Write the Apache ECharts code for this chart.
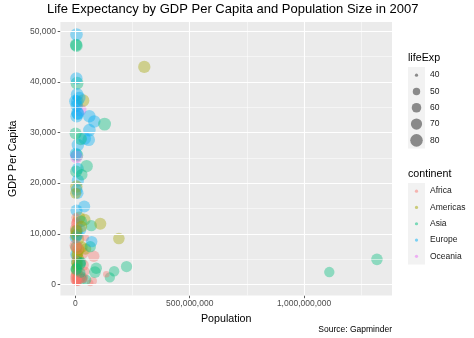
<!DOCTYPE html>
<html><head><meta charset="utf-8">
<script src="https://cdn.jsdelivr.net/npm/echarts@6/dist/echarts.min.js"></script>
<style>html,body{margin:0;padding:0;background:#fff}#c{width:474px;height:338px}</style>
</head><body><div id="c"></div>
<script>
// Gapminder 2007, alphabetical by country
const continents = ['Africa','Americas','Asia','Europe','Oceania'];
const continentColors = ['#F8766D','#A3A500','#00BF7D','#00B0F6','#E76BF3'];
const continentOf = [2,3,0,0,1,4,3,2,2,3,0,1,3,0,1,3,0,0,2,0,1,0,0,1,2,1,0,0,0,1,0,3,1,3,3,0,1,1,0,1,0,0,0,3,3,0,0,3,0,3,1,0,0,1,1,2,3,3,2,2,2,2,3,2,3,1,2,2,0,2,2,2,2,0,0,0,0,0,2,0,0,0,1,2,3,0,0,2,0,2,3,4,1,0,0,3,2,2,1,1,1,2,3,3,1,0,3,0,0,2,0,3,0,2,3,3,0,0,3,2,0,0,3,3,2,2,0,2,0,1,0,3,0,3,1,1,1,2,2,2,0,0];
// population in millions
const popMillions = [31.89,3.60,33.33,12.42,40.30,20.43,8.20,0.71,150.45,10.39,8.08,9.12,4.55,1.64,190.01,7.32,14.33,8.39,14.13,17.70,33.39,4.37,10.24,16.28,1318.68,44.23,0.71,64.61,3.80,4.13,18.01,4.49,11.42,10.23,5.47,0.50,9.32,13.76,80.26,6.94,0.55,4.91,76.51,5.24,61.08,1.45,1.69,82.40,22.87,10.71,12.57,9.95,1.47,8.50,7.48,6.98,9.96,0.30,1110.40,223.55,69.45,27.50,4.11,6.43,58.15,2.78,127.47,6.05,35.61,23.30,49.04,2.51,3.92,2.01,3.19,6.04,19.17,13.33,24.82,12.03,3.27,1.25,108.70,2.87,0.68,33.76,19.95,47.76,2.06,28.90,16.57,4.12,5.68,12.89,135.03,4.63,3.20,169.27,3.24,6.67,28.67,91.08,38.52,10.64,3.94,0.80,22.28,8.86,0.20,27.60,12.27,10.15,6.14,4.55,5.45,2.01,9.12,44.00,40.45,20.38,42.29,1.13,9.03,7.55,19.31,23.17,38.14,65.07,5.70,1.06,10.28,71.16,29.17,60.78,301.14,3.45,26.08,85.26,4.02,22.21,11.75,12.31];
const gdpPercap = [974.6,5937.0,6223.4,4797.2,12779.4,34435.4,36126.5,29796.0,1391.3,33692.6,1441.3,3822.1,7446.3,12569.9,9065.8,10680.8,1217.0,430.1,1713.8,2042.1,36319.2,706.0,1704.1,13171.6,4959.1,7006.6,986.1,277.6,3632.6,9645.1,1544.8,14619.2,8948.1,22833.3,35278.4,2082.5,6025.4,6873.3,5581.2,5728.4,12154.1,641.4,690.8,33207.1,30470.0,13206.5,752.7,32170.4,1327.6,27538.4,5186.1,942.7,579.2,1201.6,3548.3,39725.0,18008.9,36180.8,2452.2,3540.7,11605.7,4471.1,40676.0,25523.3,28569.7,7320.9,31656.1,4519.5,1463.2,1593.1,23348.1,47307.0,10461.1,1569.3,414.5,12057.5,1044.8,759.3,12451.7,1042.6,1803.2,10957.0,11977.6,3095.8,9253.9,3820.2,823.7,944.0,4811.1,1091.4,36797.9,25185.0,2749.3,619.7,2014.0,49357.2,22316.2,2605.9,9809.2,4172.8,7408.9,3190.5,15389.9,20509.6,19328.7,7670.1,10808.5,863.1,1598.4,21654.8,1712.5,9786.5,862.5,47143.2,18678.3,25768.3,926.1,9269.7,28821.1,3970.1,2602.4,4513.5,33859.7,37506.4,4184.5,28718.3,1107.5,7458.4,883.0,18008.5,7092.9,8458.3,1056.4,33203.3,42951.7,10611.5,11415.8,2441.6,3025.3,2280.8,1271.2,469.7];
const lifeExp = [43.8,76.4,72.3,42.7,75.3,81.2,79.8,75.6,64.1,79.4,56.7,65.6,74.9,50.7,72.4,73.0,52.3,49.6,59.7,50.4,80.7,44.7,50.7,78.6,73.0,72.9,65.2,46.5,55.3,78.8,48.3,75.7,78.3,76.5,78.3,54.8,72.2,75.0,71.3,71.9,51.6,58.0,52.9,79.3,80.7,56.7,59.4,79.4,60.0,79.5,70.3,56.0,46.4,60.9,70.2,82.2,73.3,81.8,64.7,70.7,71.0,59.5,78.9,80.7,80.5,72.6,82.6,72.5,54.1,67.3,78.6,77.6,72.0,42.6,45.7,74.0,59.4,48.3,74.2,54.5,64.2,72.8,76.2,66.8,74.5,71.2,42.1,62.1,52.9,63.8,79.8,80.2,72.9,56.9,46.9,80.2,75.6,65.5,75.5,71.8,71.4,71.7,75.6,78.1,78.7,76.4,72.5,46.2,65.5,72.8,63.1,74.0,42.6,80.0,74.7,77.9,48.2,49.3,80.9,72.4,58.6,39.6,80.9,81.7,74.1,78.4,52.5,70.6,58.4,69.8,73.9,71.8,51.5,79.4,78.2,76.4,73.7,74.2,73.4,62.7,42.4,43.5];
const xMajor = [0, 500000000, 1000000000];
const xMinor = [250000000, 750000000, 1250000000];
const yMajor = [0, 10000, 20000, 30000, 40000, 50000];
const yMinor = [5000, 15000, 25000, 35000, 45000];
const lifeBreaks = [40, 50, 60, 70, 80];

const FONT = '"Liberation Sans", Arial, Helvetica, sans-serif';
const pops = popMillions.map(p => p * 1e6);
const pMin = Math.min(...pops), pMax = Math.max(...pops);
const gMin = Math.min(...gdpPercap), gMax = Math.max(...gdpPercap);
const lMin = Math.min(...lifeExp), lMax = Math.max(...lifeExp);
const xLo = pMin - 0.05 * (pMax - pMin), xHi = pMax + 0.05 * (pMax - pMin);
const yLo = gMin - 0.05 * (gMax - gMin), yHi = gMax + 0.05 * (gMax - gMin);
const K = 2.15;
function sizeFn(l) { return K * (1 + 5 * Math.sqrt(Math.max(0, (l - lMin) / (lMax - lMin)))); }
function hexA(h, a) { const n = parseInt(h.slice(1), 16); return `rgba(${n>>16},${(n>>8)&255},${n&255},${a})`; }
const fmt = v => Math.round(v).toLocaleString('en-US');

const points = pops.map((p, i) => ({ value: [p, gdpPercap[i], lifeExp[i]], itemStyle: { color: hexA(continentColors[continentOf[i]], 0.5) } }));

function gridLines(xs, ys, w) {
  return { type: 'scatter', data: [], silent: true, z: 1,
    markLine: { silent: true, symbol: 'none', animation: false, label: { show: false }, emphasis: { disabled: true },
      lineStyle: { color: '#ffffff', width: w, type: 'solid', opacity: 1 },
      data: [...ys.map(v => ({ yAxis: v })), ...xs.map(v => ({ xAxis: v }))] } };
}

// legend graphics
const graphics = [];
const LX = 408, KW = 17, KH = 16.3;
graphics.push({ type: 'text', left: LX, top: 53, style: { text: 'lifeExp', font: `10.7px ${FONT}`, fill: '#000' } });
graphics.push({ type: 'rect', shape: { x: LX, y: 67, width: KW, height: KH * lifeBreaks.length }, style: { fill: '#F2F2F2' } });
lifeBreaks.forEach((b, i) => {
  const cy = 67 + KH * i + KH / 2;
  graphics.push({ type: 'circle', shape: { cx: LX + KW / 2, cy: cy, r: sizeFn(b) / 2 }, style: { fill: 'rgba(0,0,0,0.43)' } });
  graphics.push({ type: 'text', x: 430, y: cy, style: { text: String(b), font: `8.5px ${FONT}`, fill: '#1A1A1A', verticalAlign: 'middle' } });
});
graphics.push({ type: 'text', left: LX, top: 169, style: { text: 'continent', font: `10.7px ${FONT}`, fill: '#000' } });
graphics.push({ type: 'rect', shape: { x: LX, y: 183, width: KW, height: KH * continents.length }, style: { fill: '#F2F2F2' } });
continents.forEach((c, i) => {
  const cy = 183 + KH * i + KH / 2;
  graphics.push({ type: 'circle', shape: { cx: LX + KW / 2, cy: cy, r: K * 1.5 / 2 }, style: { fill: hexA(continentColors[i], 0.5) } });
  graphics.push({ type: 'text', x: 430, y: cy, style: { text: c, font: `8.5px ${FONT}`, fill: '#1A1A1A', verticalAlign: 'middle' } });
});
graphics.push({ type: 'text', right: 82, top: 325, style: { text: 'Source: Gapminder', font: `8.5px ${FONT}`, fill: '#000' } });

const chart = echarts.init(document.getElementById('c'), null, { renderer: 'canvas' });
chart.setOption({
  animation: false,
  backgroundColor: '#ffffff',
  title: { text: 'Life Expectancy by GDP Per Capita and Population Size in 2007', left: 47, top: 3, padding: 0,
    textStyle: { fontFamily: FONT, fontSize: 13, fontWeight: 'normal', color: '#000' } },
  grid: { left: 47.3, right: 82, top: 22, bottom: 42.5, show: true, backgroundColor: '#EBEBEB', borderWidth: 0, containLabel: false },
  xAxis: { type: 'value', min: xLo, max: xHi, name: 'Population', nameLocation: 'middle', nameGap: 13,
    nameTextStyle: { fontFamily: FONT, fontSize: 10.7, color: '#000', verticalAlign: 'top' },
    axisLine: { show: false, onZero: false }, splitLine: { show: false },
    axisTick: { show: true, customValues: xMajor, length: 2.7, lineStyle: { color: '#333333', width: 0.8 } },
    axisLabel: { customValues: xMajor, formatter: fmt, margin: 4, fontFamily: FONT, fontSize: 8.5, color: '#4D4D4D' } },
  yAxis: { type: 'value', min: yLo, max: yHi, name: 'GDP Per Capita', nameLocation: 'middle', nameGap: 37.5,
    nameTextStyle: { fontFamily: FONT, fontSize: 10.7, color: '#000' },
    axisLine: { show: false, onZero: false }, splitLine: { show: false },
    axisTick: { show: true, customValues: yMajor, length: 2.7, lineStyle: { color: '#333333', width: 0.8 } },
    axisLabel: { customValues: yMajor, formatter: fmt, margin: 4.5, fontFamily: FONT, fontSize: 8.5, color: '#4D4D4D' } },
  graphic: graphics,
  series: [
    gridLines(xMinor, yMinor, 0.5),
    gridLines(xMajor, yMajor, 1.1),
    { type: 'scatter', z: 3, data: points, symbol: 'circle', symbolSize: v => sizeFn(v[2]),
      emphasis: { disabled: true }, itemStyle: { borderWidth: 0 } }
  ]
});
</script></body></html>
